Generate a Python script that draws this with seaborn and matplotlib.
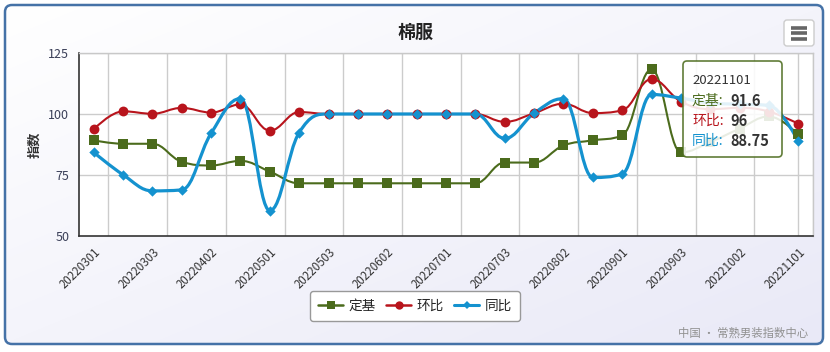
import numpy as np
import pandas as pd
import seaborn as sns
import matplotlib.pyplot as plt
import matplotlib.transforms as mtransforms
from matplotlib.path import Path
from matplotlib.patches import PathPatch, FancyBboxPatch
from matplotlib.lines import Line2D

sns.set_style('white')
plt.rcParams['font.family'] = ['Noto Sans CJK SC', 'DejaVu Sans']

dates = ['20220301', '20220302', '20220303', '20220401', '20220402', '20220403',
         '20220501', '20220502', '20220503', '20220601', '20220602', '20220603',
         '20220701', '20220702', '20220703', '20220801', '20220802', '20220803',
         '20220901', '20220902', '20220903', '20221001', '20221002', '20221003',
         '20221101']
dingji = [89.2, 87.8, 87.8, 80.4, 78.9, 80.8, 76.4, 71.6, 71.6, 71.6, 71.6, 71.6,
          71.6, 71.6, 80.1, 80.1, 87.1, 89.2, 91.2, 118.3, 84.3, 88.5, 94.0, 99.0, 91.6]
huanbi = [93.75, 101.1, 100.1, 102.5, 100.6, 103.9, 93.2, 100.8, 100, 100, 100, 100,
          100, 100, 96.8, 100.3, 104.2, 100.4, 101.5, 114.3, 105.1, 102.0, 102.5, 101.0, 96]
tongbi = [84.3, 75.1, 68.5, 68.9, 92.1, 106.3, 60.4, 92.4, 100, 100, 100, 100,
          100, 100, 90.0, 100.3, 106.3, 74.0, 75.4, 108.0, 106.5, 104.5, 104.0, 103.5, 88.75]

df = pd.DataFrame({'date': dates, '定基': dingji, '环比': huanbi, '同比': tongbi})
df['i'] = np.arange(len(df))

series = [('定基', '#4b6b1c', 's', 1.5, 46),
          ('环比', '#b8141c', 'o', 1.5, 50),
          ('同比', '#1492cf', 'D', 2.3, 28)]


def spline_path(xs, ys, smoothing=1.5):
    # highcharts style spline control points
    n = len(xs)
    lc, rc = [], []
    for k in range(n):
        x, y = xs[k], ys[k]
        if 0 < k < n - 1:
            lx, ly = xs[k - 1], ys[k - 1]
            nx, ny = xs[k + 1], ys[k + 1]
            d = smoothing + 1
            lcx = (smoothing * x + lx) / d
            lcy = (smoothing * y + ly) / d
            rcx = (smoothing * x + nx) / d
            rcy = (smoothing * y + ny) / d
            corr = (rcy - lcy) * (rcx - x) / (rcx - lcx) + y - rcy
            lcy += corr
            rcy += corr
            if lcy > ly and lcy > y:
                lcy = max(ly, y); rcy = 2 * y - lcy
            elif lcy < ly and lcy < y:
                lcy = min(ly, y); rcy = 2 * y - lcy
            if rcy > ny and rcy > y:
                rcy = max(ny, y); lcy = 2 * y - rcy
            elif rcy < ny and rcy < y:
                rcy = min(ny, y); lcy = 2 * y - rcy
            lc.append((lcx, lcy)); rc.append((rcx, rcy))
        else:
            lc.append((x, y)); rc.append((x, y))
    verts = [(xs[0], ys[0])]
    codes = [Path.MOVETO]
    for k in range(1, n):
        verts += [rc[k - 1], lc[k], (xs[k], ys[k])]
        codes += [Path.CURVE4] * 3
    return Path(verts, codes)


fig = plt.figure(figsize=(8.3, 3.52), dpi=100)
fig.patch.set_facecolor('white')

# background with soft gradient and rounded blue frame
bg = fig.add_axes([0, 0, 1, 1], zorder=-5)
bg.set_xlim(0, 830)
bg.set_ylim(352, 0)
bg.axis('off')
gx, gy = np.meshgrid(np.linspace(0, 1, 200), np.linspace(0, 1, 100))
grad = (gx + gy) / 2
im = bg.imshow(grad, extent=[5, 823, 344, 5], cmap=sns.blend_palette(['#ffffff', '#e9e9f7'], as_cmap=True),
               aspect='auto', interpolation='bilinear')
frame = FancyBboxPatch((5, 5), 818, 339, boxstyle='round,pad=0,rounding_size=7',
                       fc='none', ec='#4572a7', lw=1.8, transform=bg.transData)
bg.add_patch(frame)
im.set_clip_path(frame)

ax = fig.add_axes([79 / 830, 1 - 236 / 352, (813 - 79) / 830, (236 - 53) / 352], zorder=1)
ax.set_facecolor('white')

for name, col, mk, lw, ms in series:
    ax.add_patch(PathPatch(spline_path(df['i'].tolist(), df[name].tolist()),
                           fc='none', ec=col, lw=lw, capstyle='round', joinstyle='round', zorder=3))
    sns.scatterplot(data=df, x='i', y=name, marker=mk, color=col, s=ms, linewidth=0,
                    ax=ax, zorder=4, legend=False)

ax.set_xlim(-0.5, len(dates) - 0.5)
ax.set_ylim(50, 125)
ax.set_yticks([50, 75, 100, 125])
ax.set_xticks(df['i'][::2])
ax.set_xticklabels(df['date'][::2], rotation=45, ha='right', va='top', rotation_mode='anchor',
                   fontsize=8.3, color='#333333')
shift = mtransforms.ScaledTranslation(-5 / 100, 0, fig.dpi_scale_trans)
for lbl in ax.get_xticklabels():
    lbl.set_transform(lbl.get_transform() + shift)
ax.set_xticks(np.arange(0.5, len(dates), 2), minor=True)
ax.tick_params(axis='x', which='major', length=0, pad=7)
ax.tick_params(axis='x', which='minor', length=5, width=1, color='#333333', direction='out')
ax.tick_params(axis='y', length=5, width=1, color='#333333', direction='out', pad=2,
               labelsize=9, labelcolor='#3a3f58')
ax.set_xlabel('')
ax.set_ylabel('')
ax.grid(False)
for xv in np.arange(0.5, len(dates), 2):
    ax.axvline(xv, color='#cccccc', lw=1, zorder=1)
for yv in [75, 100, 125]:
    ax.axhline(yv, color='#cccccc', lw=1, zorder=1)
ax.axvline(24, color='#cccccc', lw=1, zorder=1)
for s in ['top', 'right']:
    ax.spines[s].set_color('#c8c8c8')
    ax.spines[s].set_linewidth(1)
for s in ['left', 'bottom']:
    ax.spines[s].set_color('#333333')
    ax.spines[s].set_linewidth(1.2)

fig.text(415 / 830, 1 - 32 / 352, '棉服', ha='center', va='center', fontsize=13,
         fontweight='bold', color='#222222')
fig.text(34 / 830, 1 - 145 / 352, '指数', ha='center', va='center', rotation=90,
         fontsize=9.5, fontweight='bold', color='#333333')
fig.text(808 / 830, 1 - 333 / 352, '中国 · 常熟男装指数中心', ha='right', va='center',
         fontsize=8.2, color='#909090')

handles = [Line2D([0], [0], color=c, lw=1.8 if n != '同比' else 2.2, marker=m,
                  markersize=6 if m != 'D' else 4.5, markeredgewidth=0)
           for n, c, m, lw, ms in series]
fig.legend(handles, [s[0] for s in series], loc='center', bbox_to_anchor=(0.5, 1 - 306 / 352),
           ncol=3, frameon=True, fancybox=True, edgecolor='#999999', facecolor='white',
           fontsize=9.8, handlelength=1.8, handletextpad=0.4, columnspacing=0.8,
           borderpad=0.6, framealpha=1)

# overlay: menu button and tooltip
ov = fig.add_axes([0, 0, 1, 1], zorder=6)
ov.set_xlim(0, 830)
ov.set_ylim(352, 0)
ov.axis('off')
ov.patch.set_alpha(0)
ov.add_patch(FancyBboxPatch((784, 20), 30, 26, boxstyle='round,pad=0,rounding_size=3',
                            fc='white', ec='#cccccc', lw=1))
for yy in [27.5, 33, 38.5]:
    ov.plot([791, 807], [yy, yy], color='#666666', lw=2.6, solid_capstyle='butt')

ov.add_patch(FancyBboxPatch((683, 61), 99, 96, boxstyle='round,pad=0,rounding_size=4',
                            fc='white', ec='#4b6b1c', lw=1.2, alpha=0.88))
ov.text(692, 81, dates[-1], ha='left', va='center', fontsize=9.5, color='#333333')
rows = [('定基', dingji[-1], '#4b6b1c'), ('环比', huanbi[-1], '#b8141c'), ('同比', tongbi[-1], '#1492cf')]
for k, (n, v, c) in enumerate(rows):
    yy = 101 + k * 20
    ov.text(692, yy, n + ':', ha='left', va='center', fontsize=10, color=c)
    ov.text(730, yy, f'{v:g}', ha='left', va='center', fontsize=10.5, fontweight='bold', color='#333333')

fig.savefig('out.png', dpi=100)
